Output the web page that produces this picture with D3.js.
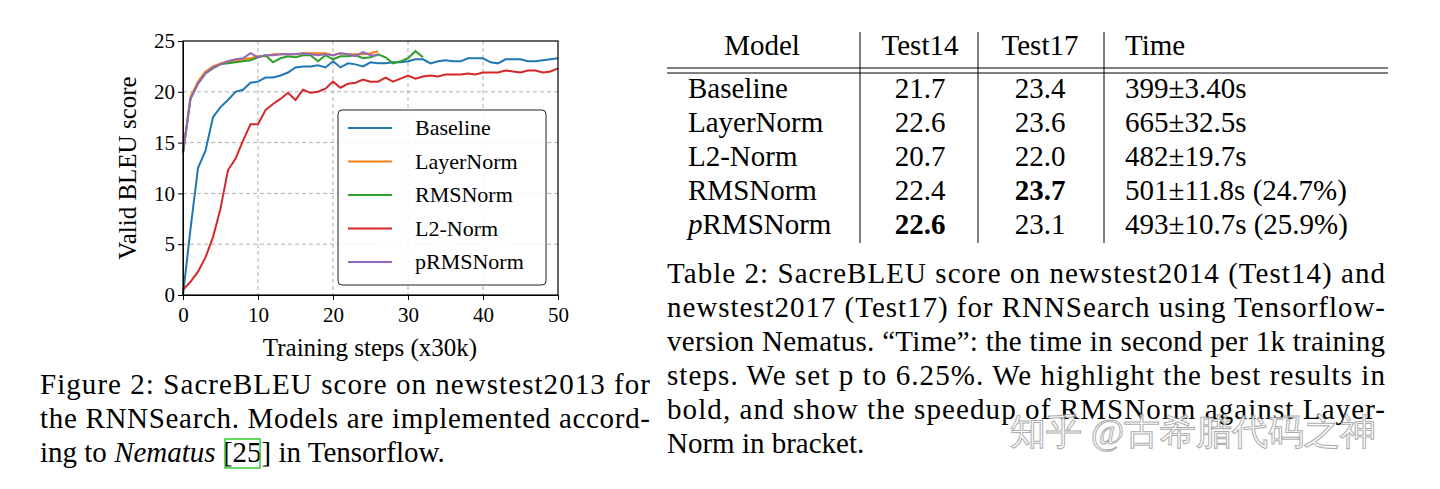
<!DOCTYPE html>
<html><head><meta charset="utf-8">
<script src="https://cdn.jsdelivr.net/npm/d3@7"></script>
<style>body{margin:0;background:#fff}svg text{font-family:"Liberation Serif","DejaVu Serif",serif}</style>
</head><body>
<svg id="c" width="1440" height="489"></svg>
<script>
const seriesNames = ['Baseline', 'LayerNorm', 'RMSNorm', 'L2-Norm', 'pRMSNorm'];
const colors = ['#1f77b4', '#ff7f0e', '#2ca02c', '#d62728', '#9467bd'];
const baseline = [0,6.5,12.5,14.2,17.5,18.5,19.2,20,20.2,20.9,21,21.4,21.4,21.6,21.9,22.4,22.5,22.5,22.6,22.4,23,22.4,22.8,22.7,22.5,22.9,22.8,22.8,22.9,22.9,23,23.2,23.2,22.8,23,23.1,23,23,23.3,23.3,23.3,22.9,22.8,23.2,23.2,23.2,23,23,23.1,23.2,23.3];
const layerNorm = [14,19.5,21,22,22.5,22.8,23,23,23.2,23.3,23.5,23.5,23.7,23.7,23.7,23.7,23.8,23.8,23.8,23.8,23.6,23.8,23.7,23.7,23.7,23.8,24];
const rmsNorm = [14,19.3,20.8,21.8,22.3,22.7,22.8,22.9,23,23.1,23.4,23.6,22.9,23.3,23.5,23.4,23.6,23.6,23,23.6,23.2,23.5,23.5,23.6,23.3,23.4,23.7,23.4,22.8,23,23.3,24,23.4];
const l2Norm = [0.5,1.3,2.3,3.7,5.7,8.5,12.3,13.4,15.2,16.8,16.8,18.2,18.8,19.3,19.9,19.2,20.2,19.9,20,20.3,21,20.4,20.8,20.9,21.2,21,21,21.4,21,21.3,21.6,21.3,21.5,21.6,21.5,21.7,21.7,21.7,21.8,21.7,21.9,21.9,21.9,22.1,22,21.9,22.1,22.1,21.9,22,22.3];
const pRmsNorm = [14,19.3,20.8,21.8,22.4,22.7,23,23.2,23.3,23.8,23.4,23.6,23.6,23.7,23.7,23.7,23.8,23.7,23.6,23.7,23.6,23.8,23.7,23.5,23.9,23.6,23.6];
const xTicks = [0,10,20,30,40,50];
const yTicks = [0,5,10,15,20,25];

const tableHeader = ['Model', 'Test14', 'Test17', 'Time'];
const tableModels = ['Baseline', 'LayerNorm', 'L2-Norm', 'RMSNorm', 'pRMSNorm'];
const test14 = ['21.7', '22.6', '20.7', '22.4', '22.6'];
const test17 = ['23.4', '23.6', '22.0', '23.7', '23.1'];
const times = ['399±3.40s', '665±32.5s', '482±19.7s', '501±11.8s (24.7%)', '493±10.7s (25.9%)'];
const bold14 = 4, bold17 = 3;

const figCaption = ['Figure 2:  SacreBLEU score on newstest2013 for', 'the RNNSearch. Models are implemented accord-'];
const tabCaption = ['Table 2:  SacreBLEU score on newstest2014 (Test14) and',
  'newstest2017 (Test17) for RNNSearch using Tensorflow-',
  'version Nematus. “Time”: the time in second per 1k training',
  'steps. We set p to 6.25%. We highlight the best results in',
  'bold, and show the speedup of RMSNorm against Layer-',
  'Norm in bracket.'];

const svg = d3.select('#c');
const x = d3.scaleLinear().domain([0, 50]).range([183, 558]);
const y = d3.scaleLinear().domain([0, 25]).range([295, 41]);

// grid
const g = svg.append('g');
g.selectAll('.gx').data(xTicks.slice(1, -1)).join('line').attr('x1', x).attr('x2', x).attr('y1', 41).attr('y2', 295)
  .attr('stroke', '#b0b0b0').attr('stroke-dasharray', '4,3');
g.selectAll('.gy').data(yTicks.slice(1, -1)).join('line').attr('y1', y).attr('y2', y).attr('x1', 183).attr('x2', 558)
  .attr('stroke', '#b0b0b0').attr('stroke-dasharray', '4,3');

const data = [baseline, layerNorm, rmsNorm, l2Norm, pRmsNorm];
const line = d3.line().x((d, i) => x(i)).y(d => y(d));
[0, 3, 1, 2, 4].forEach(k => {
  svg.append('path').datum(data[k]).attr('d', line).attr('fill', 'none').attr('stroke', colors[k]).attr('stroke-width', 2);
});

svg.append('g').attr('transform', 'translate(0,295)')
  .call(d3.axisBottom(x).tickValues(xTicks).tickSize(5).tickSizeOuter(0))
  .call(a => a.selectAll('text').attr('font-size', 21).attr('dy', '0.9em'));
svg.append('g').attr('transform', 'translate(183,0)')
  .call(d3.axisLeft(y).tickValues(yTicks).tickSize(5).tickSizeOuter(0))
  .call(a => a.selectAll('text').attr('font-size', 21));
svg.append('rect').attr('x', 183).attr('y', 41).attr('width', 375).attr('height', 254).attr('fill', 'none').attr('stroke', '#000').attr('stroke-width', 1.2);

svg.append('text').attr('transform', 'translate(136,168) rotate(-90)').attr('text-anchor', 'middle').attr('font-size', 25).text('Valid BLEU score');
svg.append('text').attr('x', 370).attr('y', 356).attr('text-anchor', 'middle').attr('font-size', 25).text('Training steps (x30k)');

// legend
svg.append('rect').attr('x', 338).attr('y', 110).attr('width', 208).attr('height', 175).attr('rx', 4)
  .attr('fill', '#fff').attr('fill-opacity', 0.85).attr('stroke', '#222');
seriesNames.forEach((n, i) => {
  const yy = 128 + i * 33.5;
  svg.append('line').attr('x1', 348).attr('x2', 392).attr('y1', yy).attr('y2', yy).attr('stroke', colors[i]).attr('stroke-width', 2);
  svg.append('text').attr('x', 415).attr('y', yy + 7).attr('font-size', 22).text(n);
});

// figure caption
figCaption.forEach((t, i) => svg.append('text').attr('x', 40).attr('y', 394 + i * 34).attr('font-size', 29)
  .attr('textLength', 610).text(t));
const last = svg.append('text').attr('x', 40).attr('y', 462).attr('font-size', 29);
last.append('tspan').text('ing to ');
last.append('tspan').attr('font-style', 'italic').text('Nematus');
last.append('tspan').text(' [25] in Tensorflow.');
svg.append('rect').attr('x', 225).attr('y', 439).attr('width', 35).attr('height', 29).attr('fill', 'none').attr('stroke', '#3c3').attr('stroke-width', 1.5);

// table
const colX = [762, 920, 1040, 1125];
tableHeader.forEach((h, i) => svg.append('text').attr('x', colX[i]).attr('y', 55)
  .attr('text-anchor', i === 3 ? 'start' : 'middle').attr('font-size', 29).text(h));
[860, 978, 1104].forEach(v => svg.append('line').attr('x1', v).attr('x2', v).attr('y1', 32).attr('y2', 243).attr('stroke', '#000'));
[68, 73].forEach(v => svg.append('line').attr('x1', 667).attr('x2', 1388).attr('y1', v).attr('y2', v).attr('stroke', '#000'));
tableModels.forEach((m, r) => {
  const yy = 98 + r * 34;
  const t = svg.append('text').attr('x', 688).attr('y', yy).attr('font-size', 29);
  if (m === 'pRMSNorm') { t.append('tspan').attr('font-style', 'italic').text('p'); t.append('tspan').text('RMSNorm'); }
  else t.text(m);
  svg.append('text').attr('x', colX[1]).attr('y', yy).attr('text-anchor', 'middle').attr('font-size', 29)
    .attr('font-weight', r === bold14 ? 'bold' : 'normal').text(test14[r]);
  svg.append('text').attr('x', colX[2]).attr('y', yy).attr('text-anchor', 'middle').attr('font-size', 29)
    .attr('font-weight', r === bold17 ? 'bold' : 'normal').text(test17[r]);
  svg.append('text').attr('x', colX[3]).attr('y', yy).attr('font-size', 29).text(times[r]);
});
tabCaption.forEach((t, i) => svg.append('text').attr('x', 667).attr('y', 283 + i * 34).attr('font-size', 29)
  .attr('textLength', i < 5 ? 718 : null).text(t));

svg.append('text').attr('x', 1010).attr('y', 444).attr('font-family', 'Noto Sans CJK SC').attr('font-size', 36)
  .attr('fill', '#fff').attr('stroke', '#999').attr('stroke-width', 1).attr('opacity', 0.8).text('知乎 @古希腊代码之神');
</script>
</body></html>
